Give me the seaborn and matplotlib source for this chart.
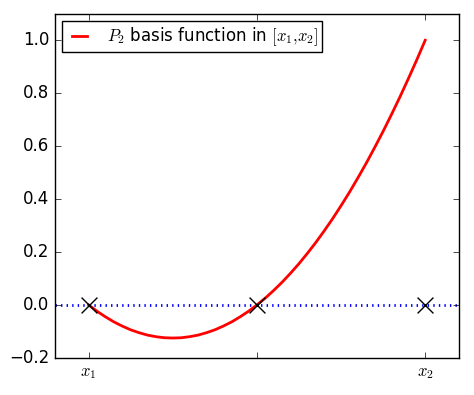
import numpy as np
import pandas as pd
import matplotlib
matplotlib.use("Agg")
import matplotlib.pyplot as plt
import seaborn as sns

# values of the P2 basis function (x from x1=0 to x2=1)
x_vals = [0.0, 0.025, 0.05, 0.075, 0.1, 0.125, 0.15, 0.175, 0.2, 0.225,
          0.25, 0.275, 0.3, 0.325, 0.35, 0.375, 0.4, 0.425, 0.45, 0.475,
          0.5, 0.525, 0.55, 0.575, 0.6, 0.625, 0.65, 0.675, 0.7, 0.725,
          0.75, 0.775, 0.8, 0.825, 0.85, 0.875, 0.9, 0.925, 0.95, 0.975, 1.0]
y_vals = [0.0, -0.024, -0.045, -0.064, -0.08, -0.094, -0.105, -0.114, -0.12, -0.124,
          -0.125, -0.124, -0.12, -0.114, -0.105, -0.094, -0.08, -0.064, -0.045, -0.024,
          0.0, 0.026, 0.055, 0.086, 0.12, 0.156, 0.195, 0.236, 0.28, 0.326,
          0.375, 0.426, 0.48, 0.536, 0.595, 0.656, 0.72, 0.786, 0.855, 0.926, 1.0]

# nodes of the element
node_x = [0.0, 0.5, 1.0]
node_y = [0.0, 0.0, 0.0]

tick_pos = [0.0, 0.5, 1.0]
tick_labels = [r"$x_1$", "", r"$x_2$"]

plt.style.use("classic")
plt.rcParams["mathtext.fontset"] = "cm"
plt.rcParams["font.family"] = ["DejaVu Sans"]

df = pd.DataFrame({"x": x_vals, "y": y_vals})
nodes = pd.DataFrame({"x": node_x, "y": node_y})

fig = plt.figure(figsize=(4.74, 3.95), dpi=100, facecolor="white")
ax = fig.add_axes([0.116, 0.094, 0.852, 0.871])

sns.lineplot(data=df, x="x", y="y", color="red", linewidth=2,
             label=r"$P_2$ basis function in $[x_1{,}x_2]$", ax=ax, zorder=2)
ax.axhline(0, color="blue", linestyle=":", linewidth=2, zorder=1)
sns.scatterplot(data=nodes, x="x", y="y", marker="x", color="black",
                s=130, linewidth=1, ax=ax, zorder=3)

ax.set_xlim(-0.1, 1.1)
ax.set_ylim(-0.2, 1.1)
ax.set_xticks(tick_pos)
ax.set_xticklabels(tick_labels)
ax.set_yticks([-0.2, 0.0, 0.2, 0.4, 0.6, 0.8, 1.0])
ax.set_xlabel("")
ax.set_ylabel("")
ax.legend(loc="upper left", fontsize=12, handlelength=1.5, handletextpad=0.9,
          borderpad=0.25, borderaxespad=0.45)

fig.savefig("out.png", dpi=100, facecolor="white")
